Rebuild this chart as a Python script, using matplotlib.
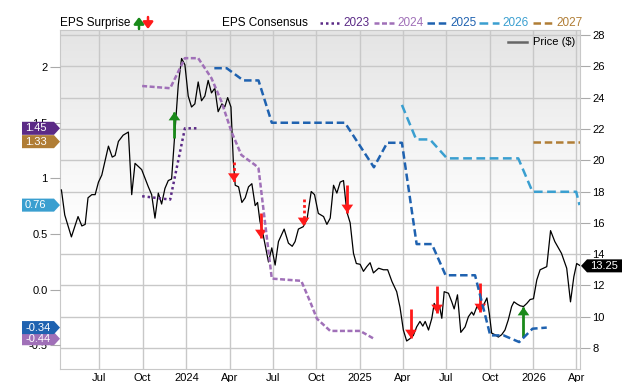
import numpy as np
import matplotlib
matplotlib.use("Agg")
import matplotlib.pyplot as plt
from matplotlib.patches import Polygon
import matplotlib.transforms as mtrans

plt.rcParams['font.family'] = ['Liberation Sans', 'DejaVu Sans']

BASE = np.datetime64('2023-07-01')

# ---------------- data ----------------
price_days = [-79, -72, -58, -44, -36, -29, -23, -15, -8, -1, 6, 20, 28, 34, 41, 51, 62, 69, 76, 90,
              104, 111, 118, 125, 132, 139, 146, 153, 159, 167, 174, 181, 188, 195, 202, 209, 216, 223,
              230, 237, 244, 251, 259, 265, 271, 278, 283, 287, 294, 301, 308, 315, 322, 329, 334, 339,
              346, 357, 364, 371, 378, 390, 399, 407, 413, 420, 430, 438, 447, 454, 462, 473, 480, 487,
              494, 501, 508, 515, 522, 529, 536, 542, 550, 557, 564, 571, 578, 589, 599, 608, 617, 627,
              634, 641, 648, 655, 662, 669, 676, 682, 687, 694, 701, 706, 712, 717, 722, 727, 736,
              743, 748, 755, 762, 771, 778, 785, 789, 796, 803, 810, 817, 822, 827, 834, 841, 848, 855,
              862, 869, 874, 881, 887, 894, 901, 908, 915, 922, 929, 936, 943, 951, 960, 974, 985, 993,
              1000, 1006, 1014]
price_vals = [18.1, 16.5, 15.1, 16.4, 15.8, 15.9, 17.6, 17.8, 17.8, 18.6, 19.05, 20.9, 20.2, 20.3, 21.2,
              21.6, 21.8, 17.8, 19.8, 19.4, 18.3, 17.8, 16.3, 17.9, 17.2, 18.2, 18.7, 18.8, 21.4, 24.8,
              26.5, 26.1, 24.1, 23.4, 23.6, 25.0, 23.8, 24.1, 25.1, 24.3, 24.6, 23.1, 23.6, 23.4, 24.0,
              23.4, 19.9, 18.4, 18.3, 17.3, 17.6, 18.3, 18.5, 17.1, 17.3, 16.1, 15.2, 13.5, 14.4, 13.3,
              14.8, 15.6, 14.7, 14.5, 14.8, 15.6, 15.75, 16.2, 18.0, 17.8, 16.6, 16.4, 15.9, 16.3, 18.4,
              17.9, 18.6, 18.7, 16.7, 16.0, 14.05, 13.4, 13.35, 12.9, 13.2, 13.45, 12.8, 13.1, 13.0, 13.0,
              12.25, 11.6, 10.6, 9.15, 8.45, 8.6, 8.8, 9.35, 9.7, 9.4, 9.7, 9.15, 9.9, 10.85, 10.5,
              10.7, 9.9, 11.6, 11.5, 10.95, 10.5, 11.4, 9.0, 9.35, 10.0, 10.3, 10.1, 10.65, 10.4, 10.75,
              11.2, 10.2, 8.95, 8.85, 8.7, 8.85, 9.15, 9.8, 10.65, 10.95, 10.8, 10.7, 10.65, 10.85, 11.1,
              11.15, 12.35, 13.0, 13.1, 13.2, 15.5, 14.8, 14.05, 13.1, 10.95, 12.55, 13.4, 13.25]

eps_2023_days = [91, 150, 181, 209]
eps_2023_vals = [0.84, 0.81, 1.45, 1.45]
eps_2024_days = [91, 150, 181, 209, 237, 258, 279, 300, 329, 336, 364, 426, 445, 459, 487, 550, 579]
eps_2024_vals = [1.83, 1.81, 2.08, 2.08, 1.90, 1.69, 1.42, 1.21, 1.12, 1.09, 0.10, 0.08, -0.11, -0.26,
                 -0.37, -0.37, -0.44]
eps_2025_days = [243, 269, 304, 336, 364, 518, 579, 607, 638, 669, 701, 730, 792, 824, 852, 885, 913, 943]
eps_2025_vals = [1.99, 1.99, 1.88, 1.88, 1.50, 1.50, 1.10, 1.32, 1.32, 0.41, 0.41, 0.13, 0.13, -0.41,
                 -0.41, -0.47, -0.35, -0.34]
eps_2026_days = [638, 668, 697, 733, 883, 913, 1005, 1012]
eps_2026_vals = [1.66, 1.35, 1.35, 1.18, 1.18, 0.88, 0.88, 0.76]
eps_2027_days = [915, 1012]
eps_2027_vals = [1.33, 1.33]

# surprises: day, price start, price end, solid?
surp_days = [159, 284, 341, 431, 523, 657, 712, 803, 894]
surp_from = [21.42, 19.9, 16.63, 17.52, 18.42, 10.49, 11.96, 12.15, 8.7]
surp_to = [23.08, 18.63, 15.03, 15.8, 16.63, 8.64, 10.24, 10.3, 10.62]
surp_solid = [True, False, True, False, True, True, True, True, True]

tick_days = [0, 92, 184, 275, 366, 458, 550, 640, 731, 823, 915, 1005]
tick_labels = ["Jul", "Oct", "2024", "Apr", "Jul", "Oct", "2025", "Apr", "Jul", "Oct", "2026", "Apr"]

series_names = ["2023", "2024", "2025", "2026", "2027"]
series_colors = ["#5b2a86", "#a070b8", "#1f62b0", "#3a9fd0", "#b07d35"]
badge_vals = [1.45, 1.33, 0.76, -0.44, -0.34]
badge_colors = ["#5b2a86", "#b07d35", "#3a9fd0", "#a070b8", "#1f62b0"]
last_price = 13.25


def to_dates(days):
    return BASE + np.array(days).astype('timedelta64[D]')


W, H = 640, 382
fig = plt.figure(figsize=(W / 100, H / 100), dpi=100)
L, R, T, B = 60, 580, 30, 369
axp = fig.add_axes([L / W, 1 - B / H, (R - L) / W, (B - T) / H])
axe = axp.twinx()

# price axis (bottom) with background and grid
axp.set_ylim(6.66, 28.32)
axp.set_xlim(to_dates([-82])[0], to_dates([1013])[0])
grad = np.linspace(0, 1, 256).reshape(-1, 1)
top_c = np.array([0.895, 0.895, 0.895])
vals = np.clip((grad - 0.42) / 0.58, 0, 1)
img = np.ones((256, 1, 3)) - vals[..., None] * (1 - top_c)
axp.imshow(img, extent=[0, 1, 0, 1], transform=axp.transAxes, aspect='auto', origin='lower', zorder=0)
axp.set_axisbelow(True)
axp.grid(True, color='#c8c8c8', lw=1)
axp.set_yticks(range(8, 29, 2))
axp.yaxis.tick_right()
axp.tick_params(axis='y', which='both', length=7, color='#aaaaaa', labelsize=8, pad=2)
axp.set_xticks(to_dates(tick_days))
axp.set_xticklabels(tick_labels)
axp.tick_params(axis='x', length=0, labelsize=8, pad=3)
for s in axp.spines.values():
    s.set_color('#c8c8c8')

axp.plot(to_dates(price_days), price_vals, color='black', lw=0.9, zorder=3)

green, red = '#1a8a1a', '#ff1a1a'
for d, a, b, solid in zip(surp_days, surp_from, surp_to, surp_solid):
    up = b > a
    c = green if up else red
    dd = to_dates([d])[0]
    axp.plot([dd, dd], [a, b], color=c, lw=2, ls='-' if solid else (0, (1, 1)), zorder=4,
             solid_capstyle='butt')
    axp.annotate('', xy=(dd, b), xytext=(0, -6 if up else 6), textcoords='offset points',
                 arrowprops=dict(arrowstyle='-|>,head_length=0.5,head_width=0.35', color=c, lw=0,
                                 shrinkA=0, shrinkB=0, mutation_scale=12), zorder=5)

# EPS axis (top)
axe.set_ylim(-0.712, 2.333)
axe.yaxis.tick_left()
axe.set_yticks([2, 1.5, 1, 0.5, 0, -0.5])
axe.set_yticklabels(["2", "1.5", "1", "0.5", "0.0", "-0.5"])
axe.tick_params(axis='y', length=7, color='#aaaaaa', labelsize=8, pad=2)
for s in axe.spines.values():
    s.set_visible(False)

styles = [(0, (1, 1.2)), (0, (2, 1)), (0, (3, 1.5)), (0, (3.5, 1.8)), (0, (3, 1.5))]
eps_days = [eps_2023_days, eps_2024_days, eps_2025_days, eps_2026_days, eps_2027_days]
eps_vals = [eps_2023_vals, eps_2024_vals, eps_2025_vals, eps_2026_vals, eps_2027_vals]
for dys, vls, c, st in zip(eps_days, eps_vals, series_colors, styles):
    axe.plot(to_dates(dys), vls, color=c, lw=1.8, ls=st)

# badges on the left
bt = mtrans.blended_transform_factory(fig.transFigure, axe.transData)
hh = 6.5 / 111
for v, c in zip(badge_vals, badge_colors):
    x0, x1, x2 = 22 / W, 54 / W, 60 / W
    poly = Polygon([(x0, v - hh), (x1, v - hh), (x2, v), (x1, v + hh), (x0, v + hh)], closed=True,
                   transform=bt, facecolor=c, edgecolor='none', clip_on=False, zorder=5)
    fig.add_artist(poly)
    fig.text(25 / W, v, f"{v:.2f}", transform=bt, color='white', fontsize=8, va='center', ha='left',
             zorder=6)

# badge on the right
btr = mtrans.blended_transform_factory(fig.transFigure, axp.transData)
hp = 6.5 / 15.65
x0, x1, x2 = 581 / W, 587 / W, 622 / W
poly = Polygon([(x0, last_price), (x1, last_price + hp), (x2, last_price + hp), (x2, last_price - hp),
                (x1, last_price - hp)], closed=True, transform=btr, facecolor='black', edgecolor='none',
               clip_on=False, zorder=5)
fig.add_artist(poly)
fig.text(590 / W, last_price, f"{last_price:.2f}", transform=btr, color='white', fontsize=8,
         va='center', ha='left', zorder=6)

# top legend
ly = 1 - 23 / H
fs = 8.5
fig.text(60 / W, ly, "EPS Surprise", fontsize=fs, va='center', ha='left')
fig.text(222 / W, ly, "EPS Consensus", fontsize=fs, va='center', ha='left')
axp.annotate('', xy=(139, H - 17), xytext=(139, H - 29), xycoords='figure pixels',
             arrowprops=dict(arrowstyle='-|>,head_length=0.4,head_width=0.3', color=green, lw=1.8,
                             shrinkA=0, shrinkB=0, mutation_scale=10))
axp.annotate('', xy=(148, H - 29), xytext=(148, H - 17), xycoords='figure pixels',
             arrowprops=dict(arrowstyle='-|>,head_length=0.4,head_width=0.3', color=red, lw=1.8,
                             shrinkA=0, shrinkB=0, mutation_scale=10))
sample_x = [320, 374, 427, 479, 533]
for sx, name, c, st in zip(sample_x, series_names, series_colors, styles):
    fig.add_artist(plt.Line2D([sx / W, (sx + 20) / W], [ly, ly], transform=fig.transFigure, color=c,
                              lw=1.8, ls=st))
    fig.text((sx + 23) / W, ly, name, color=c, fontsize=fs, va='center', ha='left')

# price legend inside
py = 1 - 42 / H
fig.add_artist(plt.Line2D([508 / W, 527 / W], [py, py], transform=fig.transFigure, color='#666666', lw=1.8))
fig.text(533 / W, py, "Price ($)", fontsize=8, va='center', ha='left')

fig.savefig("out.png", dpi=100)
